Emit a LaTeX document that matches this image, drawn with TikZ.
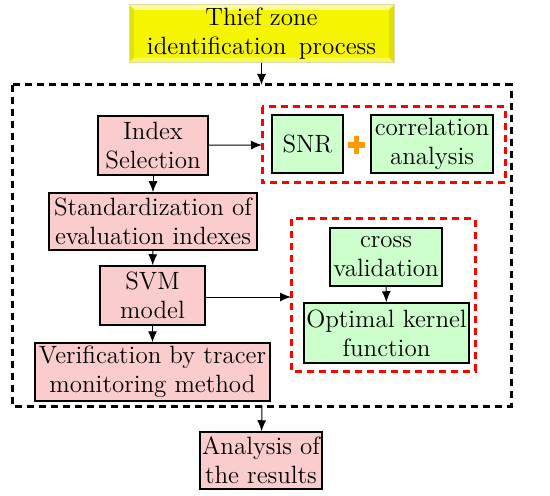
\documentclass[tikz,border=0pt]{standalone}
\usetikzlibrary{arrows.meta}
\definecolor{boxpink}{RGB}{250,204,204}
\definecolor{boxgreen}{RGB}{204,255,204}
\definecolor{plusorange}{RGB}{255,153,0}
\definecolor{titleyellow}{RGB}{245,245,0}
\definecolor{bevellight}{RGB}{250,250,150}
\definecolor{beveldark}{RGB}{222,222,0}
\definecolor{titleedge}{RGB}{220,220,170}

\begin{document}
\begin{tikzpicture}[x=0.5pt,y=-0.5pt,
    every node/.style={font=\fontsize{12.5}{14.5}\selectfont, align=center, inner sep=0pt},
    pinkbox/.style={draw, fill=boxpink, line width=0.75pt},
    greenbox/.style={draw, fill=boxgreen, line width=0.75pt},
    arr/.style={-{Latex[length=5.5pt,width=4.5pt]}, line width=0.5pt}]

\useasboundingbox (0,0) rectangle (550,496);

\def\outerframe{(12,85) rectangle (511,406)}
\def\firstframe{(262,107) rectangle (505,183)}
\def\secondframe{(291,219) rectangle (475,371)}

% dashed frames
\draw[line width=1.5pt, dash pattern=on 3.5pt off 2.5pt] \outerframe;
\draw[red, line width=1.5pt, dash pattern=on 3.5pt off 2.5pt] \firstframe \secondframe;

% title box with bevel
\fill[titleyellow] (129,5) rectangle (394,63);
\fill[bevellight] (129,5) -- (394,5) -- (389,10) -- (134,10) -- cycle;
\fill[beveldark!95!white] (129,5) -- (134,10) -- (134,58) -- (129,63) -- cycle;
\fill[beveldark] (394,5) -- (389,10) -- (389,58) -- (394,63) -- cycle;
\fill[bevellight!60!titleyellow] (129,63) -- (134,58) -- (389,58) -- (394,63) -- cycle;
\draw[titleedge, line width=0.5pt] (129,5) rectangle (394,63);
\node[minimum width=132.5pt, minimum height=29pt] (title) at (261.5,34) {Thief zone\\identification\enspace process};

% boxes
\node[pinkbox, minimum width=55pt, minimum height=29.5pt] (idx) at (153,145.5) {Index\\Selection};
\node[greenbox, minimum width=35.5pt, minimum height=29pt] (snr) at (307.5,144) {SNR};
\node[greenbox, minimum width=61pt, minimum height=29pt] (corr) at (432,144) {correlation\\analysis};
\node[pinkbox, minimum width=104pt, minimum height=28.5pt] (std) at (153,221.5) {Standardization of\\evaluation indexes};
\node[pinkbox, minimum width=52.5pt, minimum height=29.5pt] (svm) at (152.5,295.5) {SVM\\model};
\node[pinkbox, minimum width=117.5pt, minimum height=29pt] (ver) at (152.5,372) {Verification by tracer\\monitoring method};
\node[greenbox, minimum width=56pt, minimum height=29pt] (cv) at (386,257) {cross\\validation};
\node[greenbox, minimum width=82.5pt, minimum height=30pt] (okf) at (386.5,333) {Optimal kernel\\function};
\node[pinkbox, minimum width=61pt, minimum height=28.5pt] (res) at (261,460.5) {Analysis of\\the results};

% plus sign
\fill[plusorange] (348,142.5) rectangle (365,148);
\fill[plusorange] (353.8,136.5) rectangle (359.2,154);

% connectors
\coordinate (outtop) at (261.5,85);
\coordinate (outbot) at (262,406);
\coordinate (firstin) at (262,145);
\coordinate (secondin) at (291,297);
\draw[arr] (title) -- (outtop);
\draw[arr] (idx) -- (firstin);
\draw[arr] (idx) -- (std);
\draw[arr] (std) -- (svm);
\draw[arr] (svm.east |- secondin) -- (secondin);
\draw[arr] (svm) -- (ver);
\draw[arr] (cv) -- (okf);
\draw[arr] (outbot) -- (res);

\end{tikzpicture}
\end{document}
